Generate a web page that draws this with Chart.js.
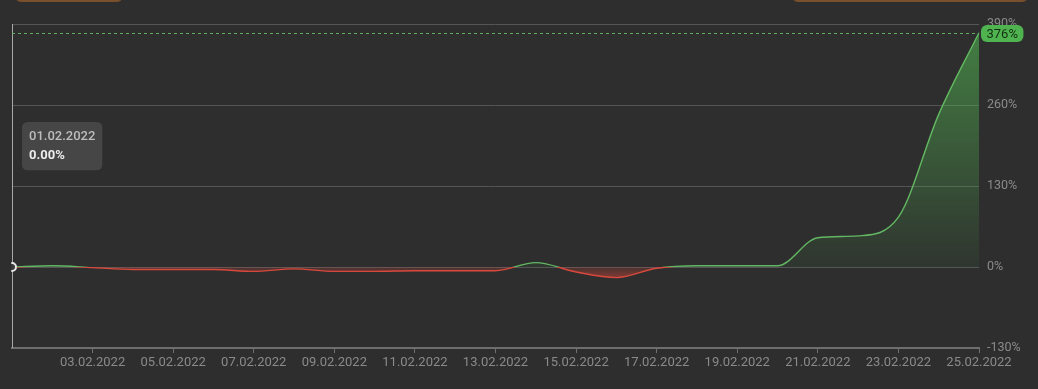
<!DOCTYPE html>
<html>
<head>
<meta charset="utf-8">
<script src="https://cdn.jsdelivr.net/npm/chart.js@4/dist/chart.umd.min.js"></script>
<style>
    html, body { margin: 0; padding: 0; background: #2e2e2e; overflow: hidden; }
    .wrap { position: relative; width: 1038px; height: 389px; }
    .btn { position: absolute; top: -30px; height: 32px; border: 2px solid #7a4f2c; border-radius: 6px; box-sizing: border-box; }
    .btn .sep { position: absolute; top: 0; bottom: 0; width: 1px; background: #6a4a30; }
    .btn .on { position: absolute; top: 0; bottom: 0; right: 0; width: 32px; background: #e07a1e; border-radius: 0 4px 4px 0; }
    canvas { position: absolute; left: 0; top: 0; }
</style>
</head>
<body>
<div class="wrap">
    <div class="btn" style="left:15px; width:108px;"></div>
    <div class="btn" style="left:792px; width:236px;">
        <div class="sep" style="left:57px;"></div>
        <div class="sep" style="left:100px;"></div>
        <div class="on"></div>
    </div>
    <canvas id="perfChart" width="1038" height="389"></canvas>
</div>
<script>
const labels = [
    '01.02.2022', '02.02.2022', '03.02.2022', '04.02.2022', '05.02.2022',
    '06.02.2022', '07.02.2022', '08.02.2022', '09.02.2022', '10.02.2022',
    '11.02.2022', '12.02.2022', '13.02.2022', '14.02.2022', '15.02.2022',
    '16.02.2022', '17.02.2022', '18.02.2022', '19.02.2022', '20.02.2022',
    '21.02.2022', '22.02.2022', '23.02.2022', '24.02.2022', '25.02.2022'
];
const returns = [0, 2, -1, -4, -4, -4, -7, -3, -7, -7, -6, -6, -6, 7, -8, -17, -2, 2, 2, 2, 47, 50, 80, 245, 376];
const yTicks = [-130, 0, 130, 260, 390];

const GREEN = '#62b862';
const RED = '#d9483c';
const FONT = 'Roboto, "Noto Sans", sans-serif';

// fixed tooltip box in the top-left corner
Chart.Tooltip.positioners.corner = function () {
    return { x: 28, y: 122, xAlign: 'left', yAlign: 'top' };
};

// vertical hover line
const crosshair = {
    id: 'crosshair',
    beforeDatasetsDraw(chart) {
        const act = chart.getActiveElements();
        if (!act.length) return;
        const { ctx, chartArea } = chart;
        const x = Math.round(act[0].element.x) + 0.5;
        ctx.save();
        ctx.strokeStyle = '#a8a8a8';
        ctx.lineWidth = 1;
        ctx.beginPath();
        ctx.moveTo(x, chartArea.top);
        ctx.lineTo(x, chartArea.bottom);
        ctx.stroke();
        ctx.restore();
    }
};

// dashed line at the last value + badge on the axis
const lastValue = {
    id: 'lastValue',
    afterDatasetsDraw(chart) {
        const { ctx, chartArea, scales } = chart;
        const v = returns[returns.length - 1];
        const y = Math.round(scales.y.getPixelForValue(v)) + 0.5;
        ctx.save();
        ctx.strokeStyle = '#5fae5f';
        ctx.setLineDash([3, 3]);
        ctx.lineWidth = 1;
        ctx.beginPath();
        ctx.moveTo(chartArea.left, y);
        ctx.lineTo(chartArea.right, y);
        ctx.stroke();
        ctx.setLineDash([]);
        const text = v + '%';
        ctx.font = '13px ' + FONT;
        const w = ctx.measureText(text).width + 11;
        const bx = chartArea.right + 2, bh = 17;
        ctx.fillStyle = '#4fb34f';
        ctx.beginPath();
        ctx.roundRect(bx, y - bh / 2, w, bh, 6);
        ctx.fill();
        ctx.fillStyle = '#143014';
        ctx.textBaseline = 'middle';
        ctx.fillText(text, bx + 5.5, y + 1);
        ctx.restore();
    }
};

const ctx = document.getElementById('perfChart').getContext('2d');
const chart = new Chart(ctx, {
    type: 'line',
    data: {
        labels: labels,
        datasets: [{
            data: returns,
            borderColor: GREEN,
            borderWidth: 1.4,
            cubicInterpolationMode: 'monotone',
            pointRadius: 0,
            pointHoverRadius: 4,
            pointHoverBorderWidth: 2,
            pointHoverBorderColor: '#e8e8e8',
            pointHoverBackgroundColor: '#3a3a3a',
            fill: { target: 'origin', above: 'rgba(76,175,80,0.3)', below: 'rgba(217,72,60,0.3)' }
        }]
    },
    options: {
        responsive: false,
        animation: false,
        events: [],
        layout: { padding: { left: 12, top: 24, right: 0, bottom: 0 } },
        scales: {
            x: {
                afterFit(scale) { scale.height = 41; },
                grid: {
                    drawOnChartArea: false,
                    tickLength: 5,
                    color: c => (c.index > 0 && c.index % 2 === 0) ? '#707070' : 'rgba(0,0,0,0)'
                },
                border: { color: '#6e6e6e', width: 2 },
                ticks: {
                    autoSkip: false,
                    maxRotation: 0,
                    padding: 2,
                    color: '#8a8a8a',
                    font: { family: FONT, size: 13 },
                    callback: function (v, i) {
                        return (i > 0 && i % 2 === 0) ? labels[i] : '';
                    }
                }
            },
            y: {
                position: 'right',
                min: -130,
                max: 390,
                afterFit(scale) { scale.width = 59; },
                afterBuildTicks(scale) { scale.ticks = yTicks.map(v => ({ value: v })); },
                grid: { color: '#555555', drawTicks: false },
                border: { display: false },
                ticks: {
                    padding: 8,
                    color: '#8a8a8a',
                    font: { family: FONT, size: 12.5 },
                    callback: v => v + '%'
                }
            }
        },
        plugins: {
            legend: { display: false },
            tooltip: {
                position: 'corner',
                backgroundColor: 'rgba(72,72,72,0.95)',
                cornerRadius: 6,
                caretSize: 0,
                caretPadding: 0,
                padding: { x: 7, y: 7 },
                displayColors: false,
                titleColor: '#bdbdbd',
                titleFont: { family: FONT, size: 13, weight: '500' },
                titleMarginBottom: 3,
                bodyColor: '#ececec',
                bodyFont: { family: FONT, size: 13, weight: 'bold' },
                callbacks: {
                    title: items => labels[items[0].dataIndex],
                    label: item => item.parsed.y.toFixed(2) + '%'
                }
            }
        }
    },
    plugins: [crosshair, lastValue]
});

// colour the line and fill around the zero line once the layout is known
const area = chart.chartArea;
const zeroY = chart.scales.y.getPixelForValue(0);
const topY = chart.scales.y.getPixelForValue(returns[returns.length - 1]);
const stop = (zeroY - area.top) / (area.bottom - area.top);

const lineGrad = ctx.createLinearGradient(0, area.top, 0, area.bottom);
lineGrad.addColorStop(0, GREEN);
lineGrad.addColorStop(stop, GREEN);
lineGrad.addColorStop(stop, RED);
lineGrad.addColorStop(1, RED);

const aboveGrad = ctx.createLinearGradient(0, topY, 0, zeroY);
aboveGrad.addColorStop(0, 'rgba(80,175,80,0.62)');
aboveGrad.addColorStop(1, 'rgba(80,175,80,0.06)');

const belowGrad = ctx.createLinearGradient(0, zeroY, 0, zeroY + 14);
belowGrad.addColorStop(0, 'rgba(217,72,60,0.15)');
belowGrad.addColorStop(1, 'rgba(217,72,60,0.6)');

const ds = chart.data.datasets[0];
ds.borderColor = lineGrad;
ds.fill = { target: 'origin', above: aboveGrad, below: belowGrad };
chart.update('none');

// show the hover state for the first day
const active = [{ datasetIndex: 0, index: 0 }];
chart.setActiveElements(active);
chart.tooltip.setActiveElements(active, { x: area.left, y: zeroY });
chart.render();
</script>
</body>
</html>
